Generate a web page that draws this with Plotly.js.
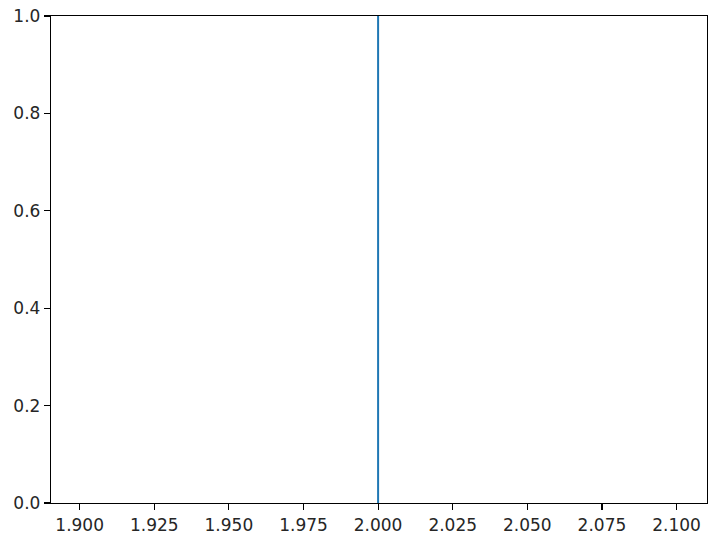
<!DOCTYPE html>
<html>
<head>
<meta charset="utf-8">
<script src="https://cdn.plot.ly/plotly-3.0.1.min.js"></script>
<style>
  html, body { margin: 0; padding: 0; background: #fff; }
  #chart { width: 715px; height: 541px; }
</style>
</head>
<body>
<div id="chart"></div>
<script>
// a single vertical line at x = 2 spanning the full y range
var lineX = [2, 2];
var lineY = [0, 1];

var xTicks = [1.9, 1.925, 1.95, 1.975, 2.0, 2.025, 2.05, 2.075, 2.1];
var yTicks = [0, 0.2, 0.4, 0.6, 0.8, 1.0];

var trace = [{
  type: 'scatter',
  mode: 'lines',
  x: lineX,
  y: lineY,
  line: { color: '#1f77b4', width: 2 },
  showlegend: false
}];

var axisStyle = {
  showgrid: false,
  zeroline: false,
  showline: true,
  linecolor: '#000',
  linewidth: 1.2,
  mirror: true,
  ticks: 'outside',
  ticklen: 6,
  tickwidth: 1.2,
  tickcolor: '#000',
  tickfont: { family: 'DejaVu Sans', size: 17, color: '#262626' }
};

var layout = {
  width: 715,
  height: 541,
  margin: { l: 51, r: 8, t: 16, b: 38, pad: 0 },
  paper_bgcolor: '#fff',
  plot_bgcolor: '#fff',
  xaxis: Object.assign({}, axisStyle, {
    range: [1.8904, 2.1102],
    tickmode: 'array',
    tickvals: xTicks,
    ticktext: xTicks.map(function (v) { return v.toFixed(3); })
  }),
  yaxis: Object.assign({}, axisStyle, {
    range: [0, 1],
    tickmode: 'array',
    tickvals: yTicks,
    ticktext: yTicks.map(function (v) { return v.toFixed(1); })
  })
};

Plotly.newPlot('chart', trace, layout, { displayModeBar: false, staticPlot: true });
</script>
</body>
</html>
